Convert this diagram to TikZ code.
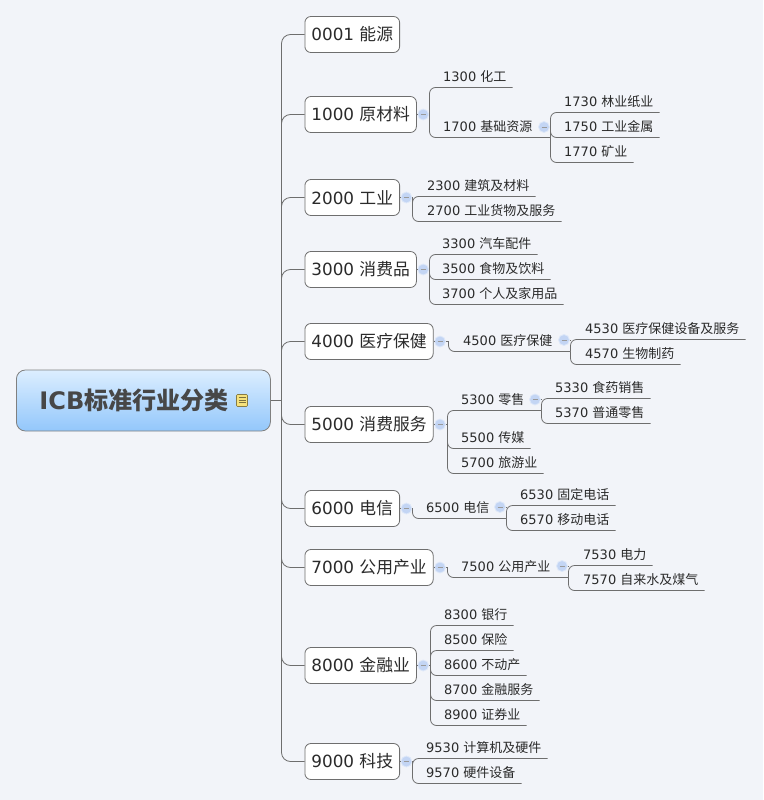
\documentclass[tikz,border=0pt]{standalone}
\usepackage{fontspec}
\setmainfont{DejaVu Sans}
\newfontfamily\cjk{Noto Sans CJK SC}
\newcommand\zh[1]{{\cjk #1}}
\usetikzlibrary{positioning}
\definecolor{paper}{HTML}{F2F4F9}
\definecolor{linegray}{HTML}{6E6E6E}
\definecolor{inkgray}{HTML}{2A2A2A}
\definecolor{foldblue}{HTML}{C3D5F4}
\definecolor{notefill}{HTML}{F6E27C}
\definecolor{roottop}{HTML}{DCEEFF}
\definecolor{rootbottom}{HTML}{93C7FB}
\tikzset{
  link/.style={draw=linegray,line width=0.8pt,rounded corners=6pt},
  trunk/.style={link,rounded corners=9pt},
  rootbox/.style={draw=black!50,line width=0.8pt,rounded corners=9pt,top color=roottop,
    bottom color=rootbottom,minimum height=61pt,text width=208pt,inner xsep=23pt,
    align=left,anchor=west,text=black!72,font=\fontsize{24.1}{24}\selectfont\bfseries},
  topic/.style={draw=linegray,line width=0.8pt,fill=white,rounded corners=6pt,minimum height=36pt,
    inner xsep=6.5pt,anchor=west,text=inkgray,font=\fontsize{16.8}{17}\selectfont},
  leaf/.style={anchor=south west,xshift=1pt,yshift=-0.5pt,inner xsep=6pt,inner ysep=1pt,text height=11pt,text depth=5pt,
    text=inkgray,font=\fontsize{13}{13}\selectfont},
  fold/.style={circle,minimum size=11pt,inner sep=0pt,draw=foldblue!55,line width=0.8pt,fill=foldblue,path picture={
    \draw[linegray!70,line width=0.6pt] ([xshift=-2.5pt]path picture bounding box.center)
      -- ([xshift=2.5pt]path picture bounding box.center);}}
}
\begin{document}
\begin{tikzpicture}[x=1pt,y=-1pt]
\fill[paper] (0,0) rectangle (763,800);
\useasboundingbox (0,0) rectangle (763,800);

\node[rootbox] (root) at (16,400.5) {ICB\zh{标准行业分类}};
% note icon beside the title
\draw[draw=black!45!notefill,fill=notefill,line width=0.6pt,rounded corners=1pt] (236.5,394.5) rectangle (247.5,406.5);
\foreach \y in {397.5,400,402.5} { \draw[black!50!notefill,line width=0.6pt] (238.5,\y) -- (245.5,\y); }

\coordinate (spine) at (281.5,400.5);
\draw[link] (root.east) -- (spine);
\foreach \name/\y/\num/\txt in {t0001/34.5/0001/能源,t1000/114.5/1000/原材料,t2000/197.5/2000/工业,
    t3000/269.5/3000/消费品,t4000/341.5/4000/医疗保健,t5000/424.5/5000/消费服务,t6000/508.5/6000/电信,
    t7000/567.5/7000/公用产业,t8000/665.5/8000/金融业,t9000/761.5/9000/科技} {
  \node[topic] (\name) at (304.5,\y) {\num\ \zh{\txt}};
  \draw[trunk] (spine) |- (\name.west);
}

% second level: fold mark, then the branch
\foreach \name/\x in {1000/429.5,2000/412.5,3000/429.5,4000/448.5,5000/447.5,6000/412.5,7000/447.5,8000/430.5,9000/412.5} {
  \node[fold,right=0.5pt of t\name] (f\name) {};
  \coordinate (x\name) at (\x,0);
  \coordinate (b\name) at (x\name |- f\name);
  \draw[link] (t\name.east) -- (f\name.west) (f\name.east) -- (b\name);
}

% 1000
\foreach \name/\y/\num/\txt in {n1300/87/1300/化工} {
  \node[leaf] (\name) at (436,\y) {\num\ \zh{\txt}};
  \draw[link] (b1000) |- (\name.south east);
}
\node[leaf] (n1700) at (436,137) {1700 \zh{基础资源}};
\node[fold] (f1700) at (544,127) {};
\coordinate (b1700) at (550.5,137.5);
\draw[link] (b1000) |- (b1700);
\draw[link] (f1700.east) -- (b1700 |- f1700);
\foreach \name/\y/\num/\txt in {n1730/112/1730/林业纸业,n1750/137/1750/工业金属,n1770/162/1770/矿业} {
  \node[leaf] (\name) at (557,\y) {\num\ \zh{\txt}};
  \draw[link] (b1700) |- (\name.south east);
}

% 2000
\foreach \name/\y/\num/\txt in {n2300/196/2300/建筑及材料,n2700/221/2700/工业货物及服务} {
  \node[leaf] (\name) at (420,\y) {\num\ \zh{\txt}};
  \draw[link] (b2000) |- (\name.south east);
}

% 3000
\foreach \name/\y/\num/\txt in {n3300/254/3300/汽车配件,n3500/279/3500/食物及饮料,n3700/304/3700/个人及家用品} {
  \node[leaf] (\name) at (435,\y) {\num\ \zh{\txt}};
  \draw[link] (b3000) |- (\name.south east);
}

% 4000
\node[leaf] (n4500) at (456,351) {4500 \zh{医疗保健}};
\node[fold] (f4500) at (564,340) {};
\coordinate (b4500) at (570.5,351.5);
\draw[link] (b4000) |- (b4500);
\draw[link] (f4500.east) -- (b4500 |- f4500);
\foreach \name/\y/\num/\txt in {n4530/339/4530/医疗保健设备及服务,n4570/364/4570/生物制药} {
  \node[leaf] (\name) at (578,\y) {\num\ \zh{\txt}};
  \draw[link] (b4500) |- (\name.south east);
}

% 5000
\node[leaf] (n5300) at (454,410) {5300 \zh{零售}};
\node[fold] (f5300) at (535,399.5) {};
\coordinate (b5300) at (541.5,410.5);
\draw[link] (b5000) |- (b5300);
\draw[link] (f5300.east) -- (b5300 |- f5300);
\foreach \name/\y/\num/\txt in {n5330/398/5330/食药销售,n5370/423/5370/普通零售} {
  \node[leaf] (\name) at (548,\y) {\num\ \zh{\txt}};
  \draw[link] (b5300) |- (\name.south east);
}
\foreach \name/\y/\num/\txt in {n5500/448/5500/传媒,n5700/473/5700/旅游业} {
  \node[leaf] (\name) at (454,\y) {\num\ \zh{\txt}};
  \draw[link] (b5000) |- (\name.south east);
}

% 6000
\node[leaf] (n6500) at (419,518) {6500 \zh{电信}};
\node[fold] (f6500) at (500,507) {};
\coordinate (b6500) at (506.5,518.5);
\draw[link] (b6000) |- (b6500);
\draw[link] (f6500.east) -- (b6500 |- f6500);
\foreach \name/\y/\num/\txt in {n6530/505/6530/固定电话,n6570/530/6570/移动电话} {
  \node[leaf] (\name) at (513,\y) {\num\ \zh{\txt}};
  \draw[link] (b6500) |- (\name.south east);
}

% 7000
\node[leaf] (n7500) at (454,577) {7500 \zh{公用产业}};
\node[fold] (f7500) at (562,566) {};
\coordinate (b7500) at (568.5,577.5);
\draw[link] (b7000) |- (b7500);
\draw[link] (f7500.east) -- (b7500 |- f7500);
\foreach \name/\y/\num/\txt in {n7530/565/7530/电力,n7570/590/7570/自来水及煤气} {
  \node[leaf] (\name) at (576,\y) {\num\ \zh{\txt}};
  \draw[link] (b7500) |- (\name.south east);
}

% 8000
\foreach \name/\y/\num/\txt in {n8300/625/8300/银行,n8500/650/8500/保险,n8600/675/8600/不动产,
    n8700/700/8700/金融服务,n8900/725/8900/证券业} {
  \node[leaf] (\name) at (437,\y) {\num\ \zh{\txt}};
  \draw[link] (b8000) |- (\name.south east);
}

% 9000
\foreach \name/\y/\num/\txt in {n9530/758/9530/计算机及硬件,n9570/783/9570/硬件设备} {
  \node[leaf] (\name) at (419,\y) {\num\ \zh{\txt}};
  \draw[link] (b9000) |- (\name.south east);
}
\end{tikzpicture}
\end{document}
